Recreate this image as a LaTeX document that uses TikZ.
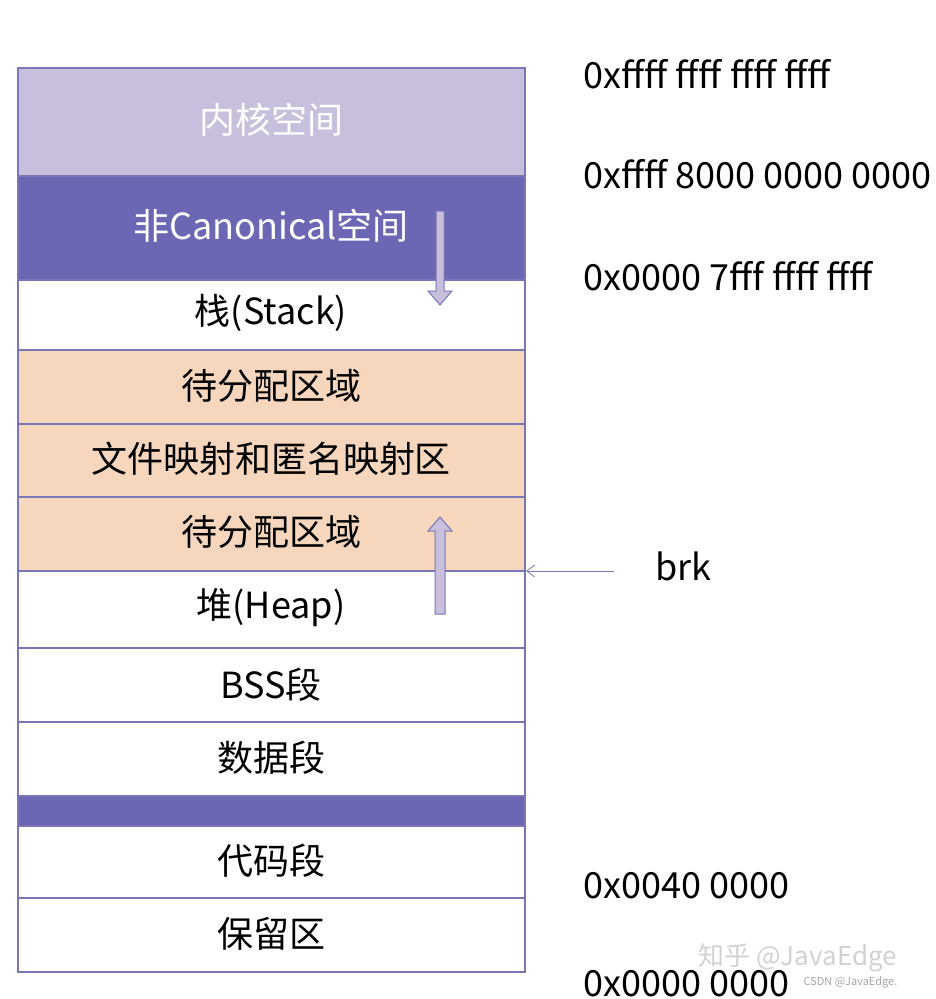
\documentclass[tikz,border=0pt]{standalone}
\usepackage{fontspec}
\usetikzlibrary{arrows.meta}
\setmainfont{Noto Sans CJK SC}
\begin{document}
\begin{tikzpicture}[x=1pt,y=-1pt,
 seg/.style={draw=bd,line width=1.2pt},
 lbl/.style={font=\fontsize{36}{40}\selectfont,text=black},
 addr/.style={anchor=west,font=\fontsize{36}{40}\selectfont,text=black},
 fat/.style={draw=bd,fill=lav,line width=1pt}]
\definecolor{bd}{HTML}{7B76B5}
\definecolor{lav}{HTML}{C8BFDD}
\definecolor{dk}{HTML}{6B67B5}
\definecolor{or}{HTML}{F6D7BE}
\useasboundingbox (0,0) rectangle (935,999);
\fill[white] (0,0) rectangle (935,999);
\path[seg,fill=lav] (18,68) rectangle (525,176);
\path[seg,fill=dk] (18,176) rectangle (525,280);
\path[seg,fill=white] (18,280) rectangle (525,350);
\path[seg,fill=or] (18,350) rectangle (525,424);
\path[seg,fill=or] (18,424) rectangle (525,497);
\path[seg,fill=or] (18,497) rectangle (525,571);
\path[seg,fill=white] (18,571) rectangle (525,648);
\path[seg,fill=white] (18,648) rectangle (525,722);
\path[seg,fill=white] (18,722) rectangle (525,796);
\path[seg,fill=dk] (18,796) rectangle (525,826);
\path[seg,fill=white] (18,826) rectangle (525,898);
\path[seg,fill=white] (18,898) rectangle (525,972);
\node[lbl,text=white] (k) at (271,120) {内核空间};
\node[lbl,text=white] (nc) at (271,226) {非Canonical空间};
\node[lbl] (st) at (271,313) {栈(Stack)};
\node[lbl] (f1) at (271,386) {待分配区域};
\node[lbl] (mm) at (271,459) {文件映射和匿名映射区};
\node[lbl] (f2) at (271,532) {待分配区域};
\node[lbl] (hp) at (271,608) {堆(Heap)};
\node[lbl] (bss) at (271,685) {BSS段};
\node[lbl] (data) at (271,758) {数据段};
\node[lbl] (code) at (271,861) {代码段};
\node[lbl] (res) at (271,934) {保留区};
\node[addr] (a1) at (580,74) {0xffff ffff ffff ffff};
\node[addr] (a2) at (580,174) {0xffff 8000 0000 0000};
\node[addr] (a3) at (580,276) {0x0000 7fff ffff ffff};
\node[addr] (a4) at (580,886) {0x0040 0000};
\node[addr] (a5) at (580,984) {0x0000 0000};
\node[addr] (brk) at (652,566) {brk};
\path[fat] (436,211) -- (444,211) -- (444,291) -- (452,291) -- (440,305) -- (428,291) -- (436,291) -- cycle;
\path[fat] (435,614) -- (445,614) -- (445,531) -- (452,531) -- (440,517) -- (428,531) -- (435,531) -- cycle;
\coordinate (b0) at (614,571);
\coordinate (b1) at (526,571);
\draw[bd,line width=0.8pt,-{Straight Barb[length=8pt,width=12pt]}] (b0) -- (b1);
\node[anchor=west,text=gray!35,font=\fontsize{26}{28}\selectfont] (wm) at (695,958) {知乎 @JavaEdge};
\node[anchor=west,text=gray!70,font=\fontsize{11}{12}\selectfont] (wm2) at (800,982) {CSDN @JavaEdge.};
\end{tikzpicture}
\end{document}
